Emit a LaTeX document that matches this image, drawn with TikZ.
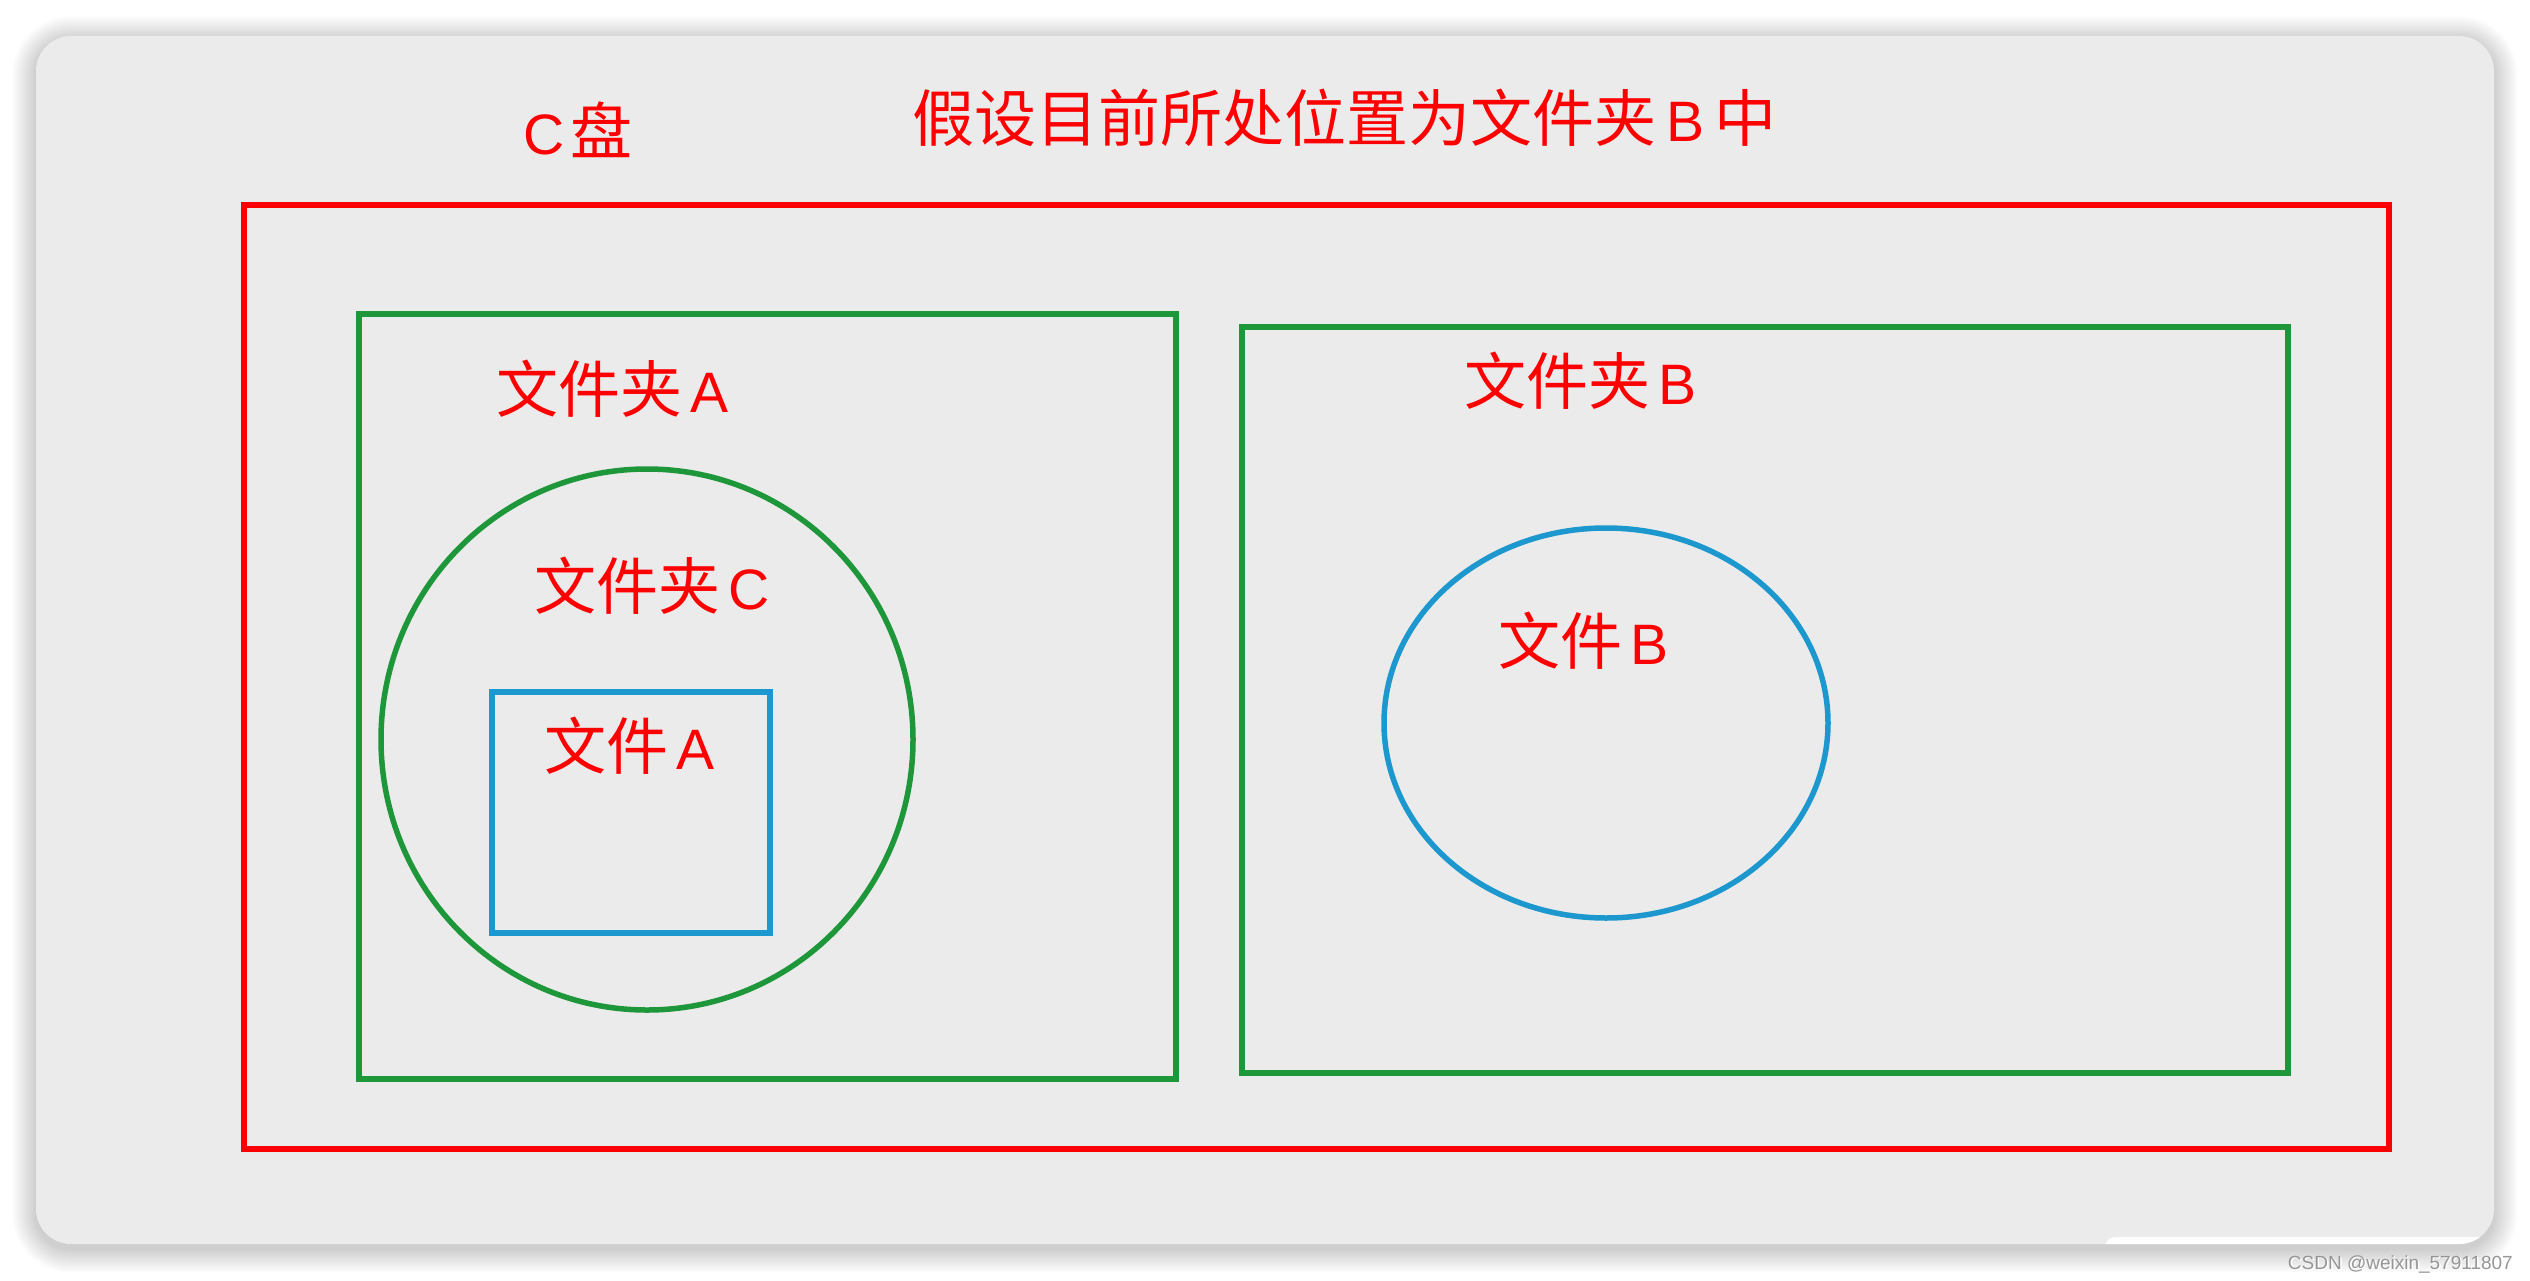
\documentclass[tikz,border=0pt]{standalone}
\usepackage{fontspec}
\setmainfont{Liberation Sans}
\newfontfamily\cjkf{Noto Sans CJK SC}
\newfontfamily\latf{Liberation Sans}
\usetikzlibrary{shapes.geometric}
\definecolor{bggray}{RGB}{235,235,235}
\definecolor{dkred}{RGB}{255,0,0}
\definecolor{fgreen}{RGB}{30,150,58}
\definecolor{fblue}{RGB}{28,152,206}
\definecolor{wmgray}{RGB}{150,150,150}
\newcommand\La[1]{{\latf\fontsize{57}{60}\selectfont #1}}
\tikzset{
  box/.style={draw, rectangle, line width=6pt, inner sep=0pt, outer sep=0pt},
  oval/.style={draw, ellipse, line width=5.5pt, inner sep=0pt, outer sep=0pt},
  lbl/.style={text=dkred, inner sep=0pt, font=\cjkf\fontsize{62}{66}\selectfont},
}
\begin{document}
\begin{tikzpicture}[x=1pt,y=-1pt]
% page
\fill[white] (0,0) rectangle (2530,1280);
\useasboundingbox (0,0) rectangle (2530,1280);
% soft shadow
\foreach \i in {1,...,24}{
  \fill[black, opacity=0.007, rounded corners=35+\i] (36-\i,36-\i+4) rectangle (2494+\i,1244+\i+5);
}
% card
\fill[bggray, rounded corners=35] (36,36) rectangle (2494,1244);
\begin{scope}
  \clip[rounded corners=35] (36,36) rectangle (2494,1244);
  \fill[white, rounded corners=10] (2105,1237) rectangle (2520,1270);
\end{scope}

% containers
\node[box, draw=dkred, minimum width=2145pt, minimum height=944pt] (disk) at (1316.5,677) {};
\node[box, draw=fgreen, line width=5.5pt, minimum width=817pt, minimum height=765pt] (fa) at (767.5,696.5) {};
\node[oval, draw=fgreen, minimum width=532pt, minimum height=541pt] (fc) at (647,739.5) {};
\node[box, draw=fblue, line width=5.5pt, minimum width=278pt, minimum height=241pt] (fileA) at (631,812.5) {};
\node[box, draw=fgreen, line width=5.5pt, minimum width=1046pt, minimum height=746pt] (fb) at (1765,700) {};
\node[oval, draw=fblue, minimum width=444pt, minimum height=390pt] (fileB) at (1606,723) {};

% labels
\node[lbl] (tdisk) at (578,130) {\La{C}\kern6pt 盘};
\node[lbl] (title) at (1344,118) {假设目前所处位置为文件夹\kern10pt\La{B}\kern10pt 中};
\node[lbl] (tfa) at (613,389) {文件夹\kern8pt\La{A}};
\node[lbl] (tfc) at (652,586) {文件夹\kern8pt\La{C}};
\node[lbl] (tfileA) at (630,746) {文件\kern8pt\La{A}};
\node[lbl] (tfb) at (1580,381) {文件夹\kern8pt\La{B}};
\node[lbl] (tfileB) at (1583,641) {文件\kern8pt\La{B}};

% watermark
\node[anchor=base east, inner sep=0pt, text=white, font=\latf\fontsize{19}{20}\selectfont] at (2514.5,1270.5) {CSDN @weixin\_57911807};
\node[anchor=base east, inner sep=0pt, text=wmgray, font=\latf\fontsize{19}{20}\selectfont] (wm) at (2513,1269) {CSDN @weixin\_57911807};
\end{tikzpicture}
\end{document}
